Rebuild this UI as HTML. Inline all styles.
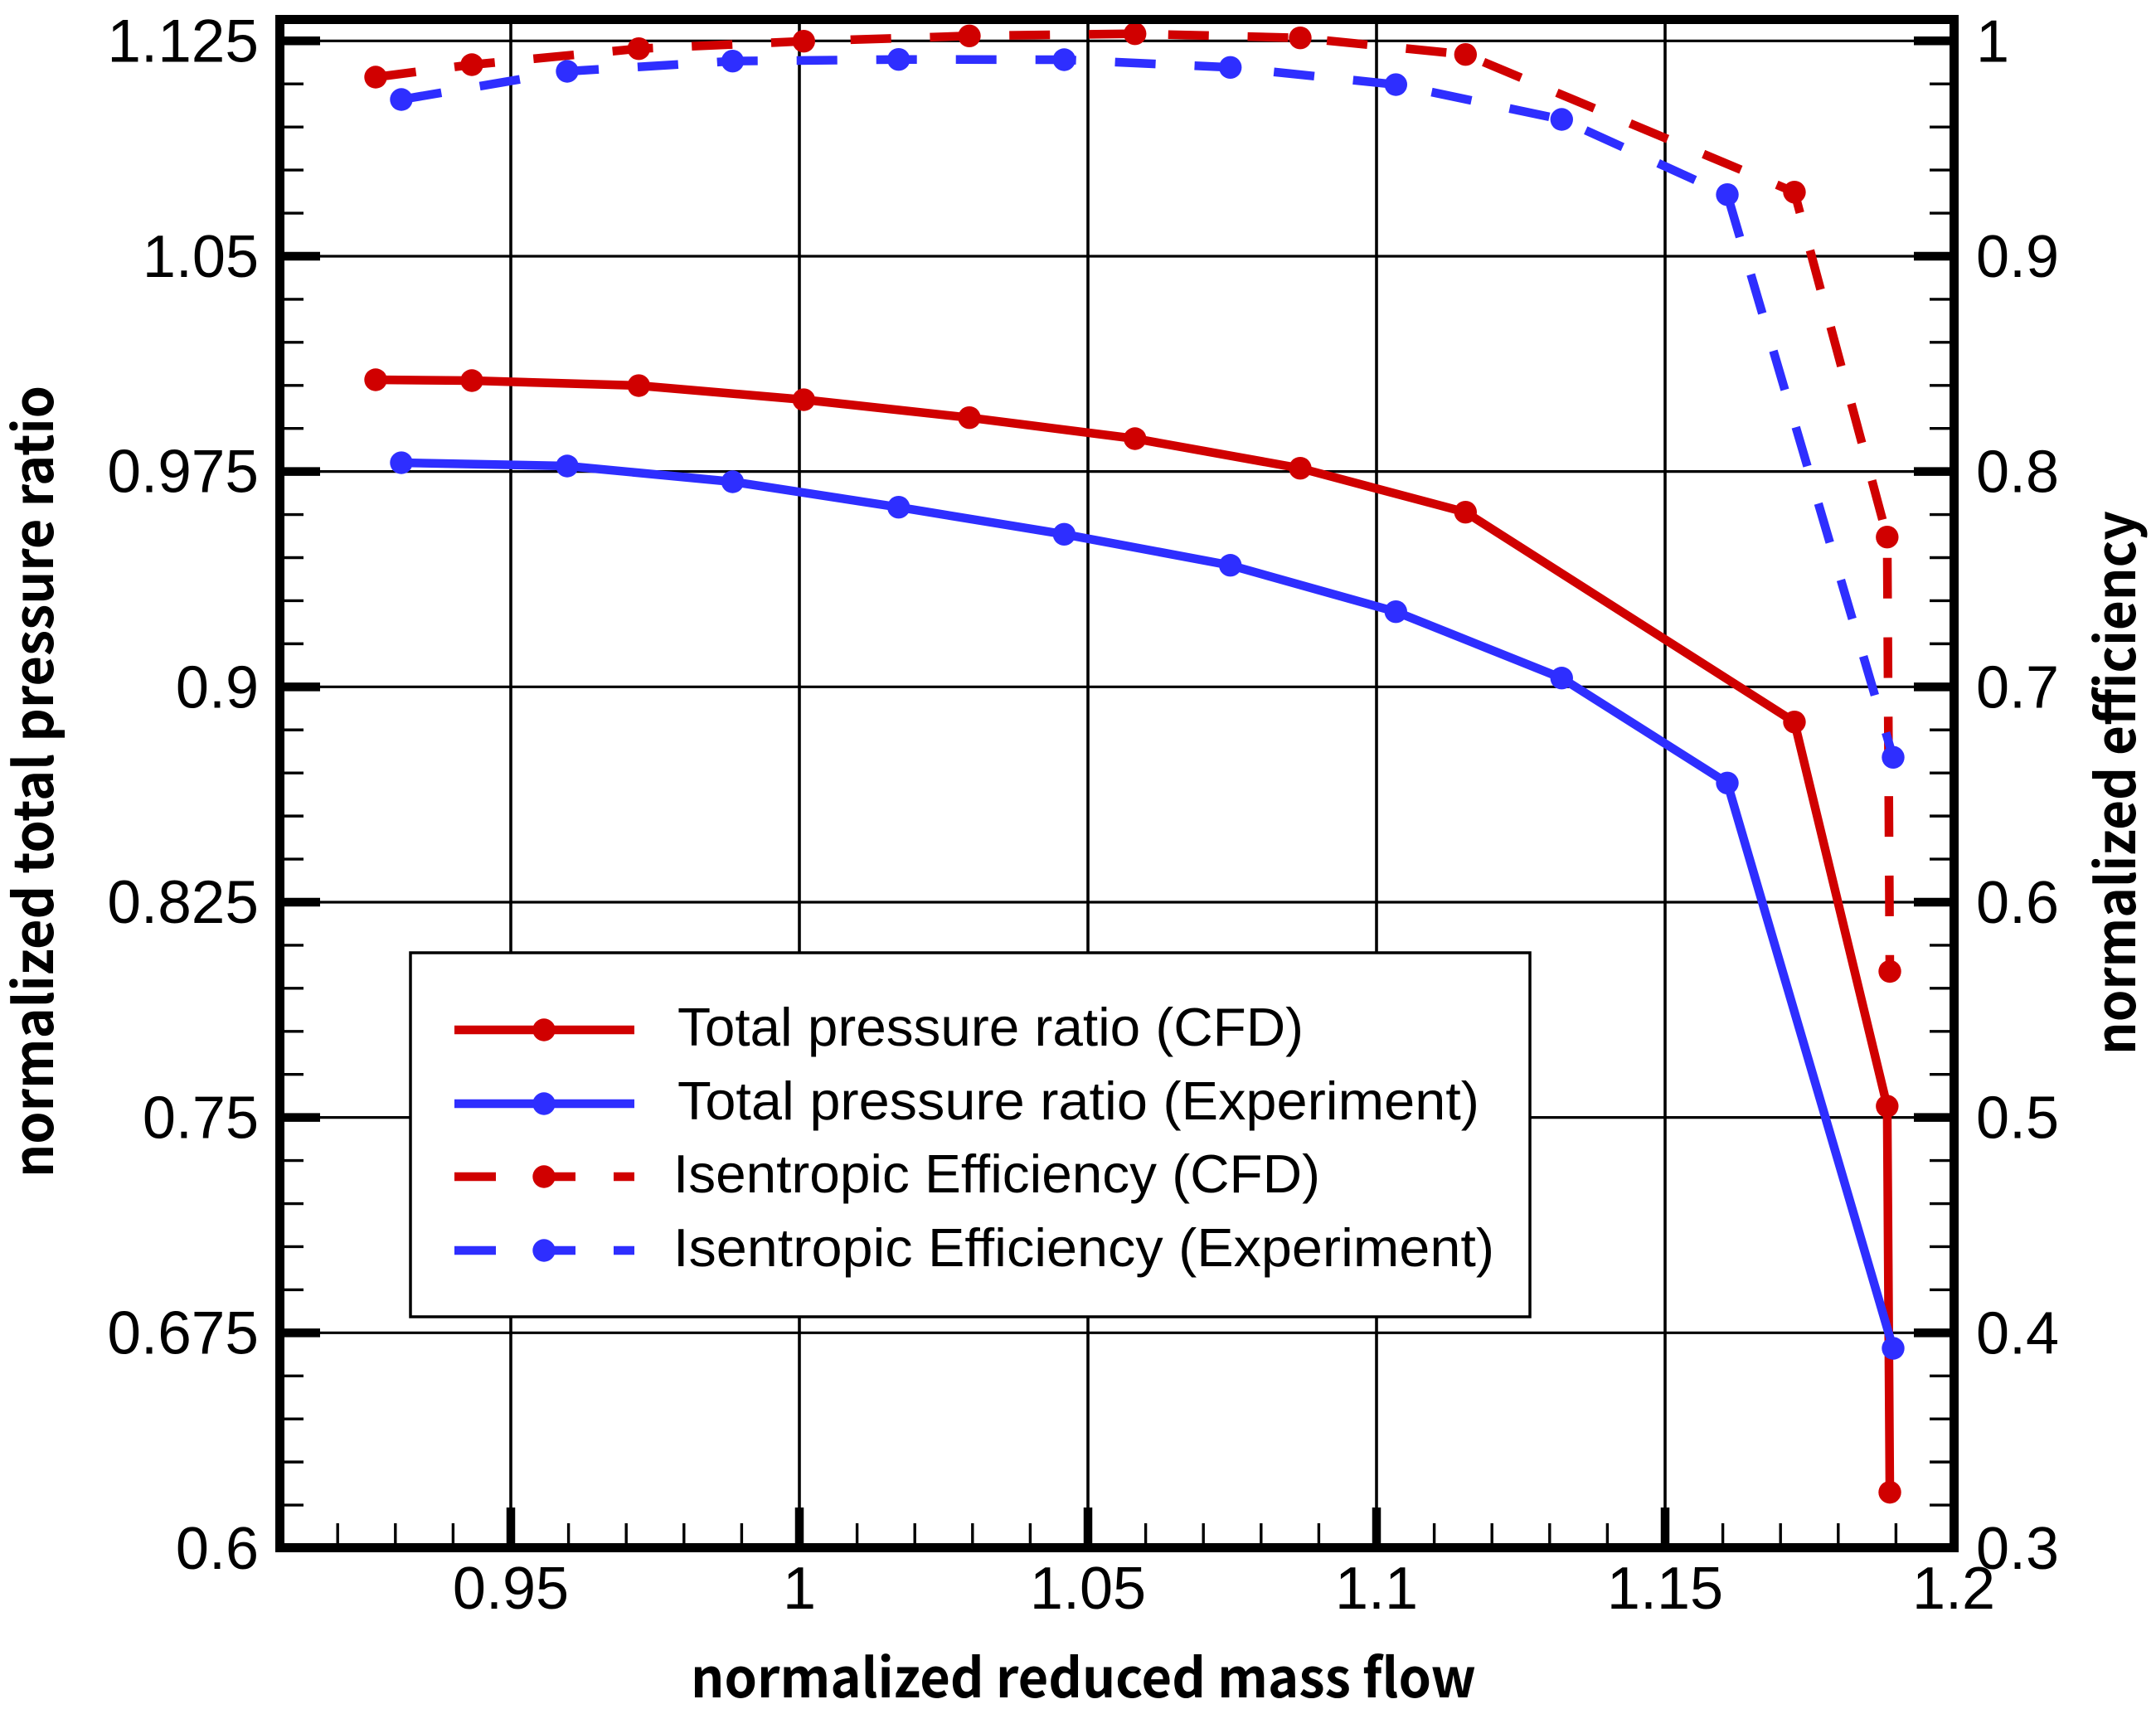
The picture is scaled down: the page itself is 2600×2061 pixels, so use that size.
<!DOCTYPE html>
<html lang="en">
<head>
<meta charset="utf-8">
<title>Normalized compressor performance map</title>
<style>
  html, body { margin: 0; padding: 0; background: #fff; }
  svg { display: block; }
  .tick-label { font-family: "Liberation Sans", sans-serif; font-size: 72px; fill: #000; }
  .axis-title { font-family: "Noto Sans CJK JP", "Liberation Sans", sans-serif; font-weight: 700; font-size: 65px; fill: #000; }
  .legend-text { font-family: "Liberation Sans", sans-serif; font-size: 65px; fill: #000; }
</style>
</head>
<body>
<svg id="chart" xmlns="http://www.w3.org/2000/svg" width="2600" height="2061" viewBox="0 0 2600 2061">
  <rect x="0" y="0" width="2600" height="2061" fill="#ffffff"/>
  <g id="grid"></g>
  <g id="series"></g>
  <g id="ticks"></g>
  <rect x="337.5" y="23.5" width="2019" height="1843" fill="none" stroke="#000" stroke-width="11"/>
  <g id="labels"></g>

  <text class="axis-title" x="833" y="2047" textLength="947" lengthAdjust="spacingAndGlyphs">normalized reduced mass flow</text>
  <text class="axis-title" transform="translate(64 1420) rotate(-90)" x="0" y="0" textLength="955" lengthAdjust="spacingAndGlyphs">normalized total pressure ratio</text>
  <text class="axis-title" transform="translate(2575 1272) rotate(-90)" x="0" y="0" textLength="656" lengthAdjust="spacingAndGlyphs">normalized efficiency</text>

  <g>
    <rect x="495" y="1149" width="1350" height="439" fill="#ffffff" stroke="#000" stroke-width="3.5"/>

    <g>
      <line x1="548" y1="1242" x2="765" y2="1242" stroke="#d00000" stroke-width="10.5"/>
      <circle cx="656" cy="1242" r="13.7" fill="#d00000"/>
      <text class="legend-text" x="817" y="1261" textLength="755" lengthAdjust="spacingAndGlyphs">Total pressure ratio (CFD)</text>
    </g>
    <g>
      <line x1="548" y1="1331" x2="765" y2="1331" stroke="#2e2eff" stroke-width="10.5"/>
      <circle cx="656" cy="1331" r="13.7" fill="#2e2eff"/>
      <text class="legend-text" x="817" y="1350" textLength="967" lengthAdjust="spacingAndGlyphs">Total pressure ratio (Experiment)</text>
    </g>
    <g>
      <line x1="548" y1="1419" x2="765" y2="1419" stroke="#d00000" stroke-width="10.5" stroke-dasharray="50 46"/>
      <circle cx="656" cy="1419" r="13.7" fill="#d00000"/>
      <text class="legend-text" x="812" y="1438" textLength="780" lengthAdjust="spacingAndGlyphs">Isentropic Efficiency (CFD)</text>
    </g>
    <g>
      <line x1="548" y1="1508" x2="765" y2="1508" stroke="#2e2eff" stroke-width="10.5" stroke-dasharray="50 46"/>
      <circle cx="656" cy="1508" r="13.7" fill="#2e2eff"/>
      <text class="legend-text" x="812" y="1527" textLength="990" lengthAdjust="spacingAndGlyphs">Isentropic Efficiency (Experiment)</text>
    </g>
  </g>
</svg>

<script>
// ---- chart data ----
const xTickValues = [0.95, 1, 1.05, 1.1, 1.15, 1.2];
const xTickLabels = ["0.95", "1", "1.05", "1.1", "1.15", "1.2"];
const pressureTickValues = [0.6, 0.675, 0.75, 0.825, 0.9, 0.975, 1.05, 1.125];
const pressureTickLabels = ["0.6", "0.675", "0.75", "0.825", "0.9", "0.975", "1.05", "1.125"];
const efficiencyTickValues = [0.3, 0.4, 0.5, 0.6, 0.7, 0.8, 0.9, 1];
const efficiencyTickLabels = ["0.3", "0.4", "0.5", "0.6", "0.7", "0.8", "0.9", "1"];

const massFlowCfd = [0.92658, 0.94325, 0.97217, 1.00076, 1.02945, 1.05815, 1.08678, 1.11542, 1.17241, 1.18848, 1.18894];
const massFlowExperiment = [0.93103, 0.95977, 0.98843, 1.0172, 1.04588, 1.07467, 1.10335, 1.13208, 1.16078, 1.18951];

const pressureRatioCfd = [1.00696, 1.00667, 1.00493, 1.00002, 0.99376, 0.98645, 0.97614, 0.96083, 0.88776, 0.75394, 0.61946];
const pressureRatioExperiment = [0.97807, 0.97692, 0.97143, 0.96256, 0.95315, 0.94234, 0.92617, 0.90306, 0.8665, 0.6696];
const efficiencyCfd = [0.98317, 0.98895, 0.99638, 0.99985, 1.00231, 1.00331, 1.00139, 0.99368, 0.92976, 0.76955, 0.56784];
const efficiencyExperiment = [0.97277, 0.98587, 0.9906, 0.99137, 0.99126, 0.98768, 0.9797, 0.96353, 0.9286, 0.66727];

// ---- axis functions ----
const X_DOMAIN_MIN = 0.91, X_DOMAIN_MAX = 1.2, X_RANGE_MIN = 337.6, X_RANGE_MAX = 2356;
const Y_RANGE_BOTTOM = 1867, Y_RANGE_TOP_TICK = 49.3;
function xScale(v) {
  return X_RANGE_MIN + (v - X_DOMAIN_MIN) / (X_DOMAIN_MAX - X_DOMAIN_MIN) * (X_RANGE_MAX - X_RANGE_MIN);
}
function pressureScale(v) {
  return Y_RANGE_BOTTOM + (v - 0.6) / (1.125 - 0.6) * (Y_RANGE_TOP_TICK - Y_RANGE_BOTTOM);
}
function efficiencyScale(v) {
  return Y_RANGE_BOTTOM + (v - 0.3) / (1 - 0.3) * (Y_RANGE_TOP_TICK - Y_RANGE_BOTTOM);
}

const NS = "http://www.w3.org/2000/svg";
function make(tag, attrs, parent) {
  const el = document.createElementNS(NS, tag);
  for (const k in attrs) el.setAttribute(k, attrs[k]);
  parent.appendChild(el);
  return el;
}

const gridG = document.getElementById("grid");
const ticksG = document.getElementById("ticks");
const labelsG = document.getElementById("labels");
const seriesG = document.getElementById("series");

const FRAME_LEFT = 343, FRAME_RIGHT = 2351, FRAME_TOP = 29, FRAME_BOTTOM = 1861;

// vertical grid, bottom ticks, x labels
xTickValues.forEach(function (v, i) {
  const x = xScale(v);
  if (i < xTickValues.length - 1) {
    const g = make("line", {x1: x, x2: x, y1: FRAME_TOP, y2: FRAME_BOTTOM, stroke: "#000", "stroke-width": 3.6}, gridG);
    
    
    const t = make("line", {x1: x, x2: x, y1: FRAME_BOTTOM, y2: 1818, stroke: "#000", "stroke-width": 10.5}, ticksG);
    
    
  }
  const lab = make("text", {class: "tick-label", x: x, y: 1940, "text-anchor": "middle"}, labelsG);
  lab.textContent = xTickLabels[i];
  
  
});

// x minor ticks (4 between majors, plus those before the first major)
const xMajorStep = xTickValues[1] - xTickValues[0];
for (let i = -1; i < xTickValues.length - 1; i++) {
  for (let j = 1; j <= 4; j++) {
    const v = xTickValues[0] + (i + j / 5) * xMajorStep;
    if (v <= X_DOMAIN_MIN + 0.001) continue;
    const x = xScale(v);
    const m = make("line", {x1: x, x2: x, y1: FRAME_BOTTOM, y2: 1837, stroke: "#000", "stroke-width": 3.4}, ticksG);
    
    
  }
}

// horizontal grid, left/right ticks
pressureTickValues.forEach(function (v, i) {
  const y = pressureScale(v);
  if (i > 0) {
    const g = make("line", {x1: FRAME_LEFT, x2: FRAME_RIGHT, y1: y, y2: y, stroke: "#000", "stroke-width": 3.2}, gridG);
    
    
    const tl = make("line", {x1: FRAME_LEFT, x2: 386, y1: y, y2: y, stroke: "#000", "stroke-width": 10.5}, ticksG);
    
    
  }
  const lab = make("text", {class: "tick-label", x: 312, y: y + 25, "text-anchor": "end"}, labelsG);
  lab.textContent = pressureTickLabels[i];
  if (pressureTickLabels[i].length === 5) lab.style.fontSize = "73px";
  
  
});
const pressureStep = pressureTickValues[1] - pressureTickValues[0];
for (let i = 0; i < pressureTickValues.length - 1; i++) {
  for (let j = 1; j <= 4; j++) {
    const y = pressureScale(pressureTickValues[i] + j / 5 * pressureStep);
    const m = make("line", {x1: FRAME_LEFT, x2: 366, y1: y, y2: y, stroke: "#000", "stroke-width": 3.4}, ticksG);
    
    
  }
}

efficiencyTickValues.forEach(function (v, i) {
  const y = efficiencyScale(v);
  if (i > 0) {
    const tr = make("line", {x1: FRAME_RIGHT, x2: 2308, y1: y, y2: y, stroke: "#000", "stroke-width": 10.5}, ticksG);
    
    
  }
  const lab = make("text", {class: "tick-label", x: 2383, y: y + 25, "text-anchor": "start"}, labelsG);
  lab.textContent = efficiencyTickLabels[i];
  
  
});
const efficiencyStep = efficiencyTickValues[1] - efficiencyTickValues[0];
for (let i = 0; i < efficiencyTickValues.length - 1; i++) {
  for (let j = 1; j <= 4; j++) {
    const y = efficiencyScale(efficiencyTickValues[i] + j / 5 * efficiencyStep);
    const m = make("line", {x1: FRAME_RIGHT, x2: 2327, y1: y, y2: y, stroke: "#000", "stroke-width": 3.4}, ticksG);
    
    
  }
}

// series
function drawSeries(name, xs, ys, yScale, color, dashPattern) {
  const group = make("g", {}, seriesG);
  
  
  const pts = xs.map(function (x, i) {
    return xScale(x).toFixed(2) + "," + yScale(ys[i]).toFixed(2);
  }).join(" ");
  const attrs = {points: pts, fill: "none", stroke: color, "stroke-width": 10.5, "stroke-linejoin": "miter"};
  if (dashPattern) attrs["stroke-dasharray"] = dashPattern;
  const line = make("polyline", attrs, group);
  
  
  xs.forEach(function (x, i) {
    const c = make("circle", {cx: xScale(x), cy: yScale(ys[i]), r: 13.7, fill: color}, group);
    
    
  });
}
drawSeries("pressure-cfd", massFlowCfd, pressureRatioCfd, pressureScale, "#d00000", null);
drawSeries("pressure-experiment", massFlowExperiment, pressureRatioExperiment, pressureScale, "#2e2eff", null);
drawSeries("efficiency-cfd", massFlowCfd, efficiencyCfd, efficiencyScale, "#d00000", "49 46.8");
drawSeries("efficiency-experiment", massFlowExperiment, efficiencyExperiment, efficiencyScale, "#2e2eff", "49 47");
</script>
</body>
</html>
